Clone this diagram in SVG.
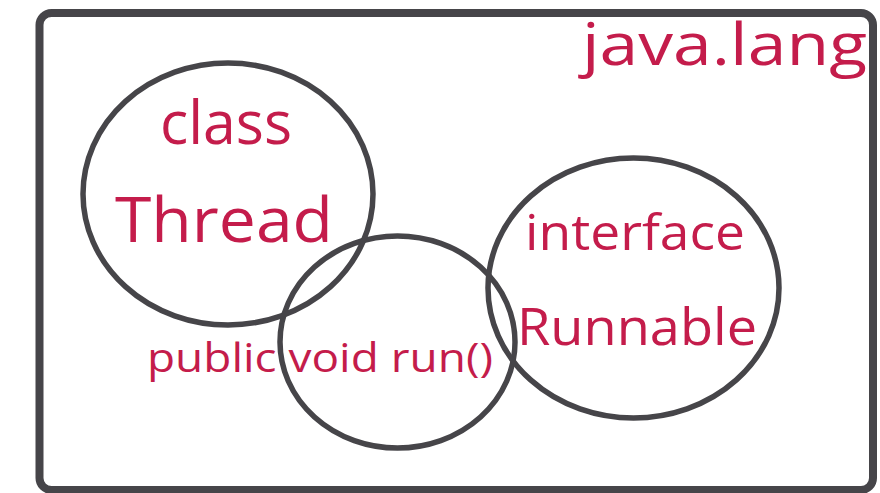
<svg xmlns="http://www.w3.org/2000/svg" width="880" height="493" viewBox="0 0 880 493">
  <style>
    .frame { fill: #ffffff; stroke: #464549; stroke-width: 8; }
    .ring { fill: none; stroke: #464549; stroke-width: 5.5; }
    .lbl { fill: #c41c4b; font-family: "Open Sans", "Noto Sans", "Liberation Sans", sans-serif; }
  </style>
  <rect width="880" height="493" fill="#ffffff"/>
  <g id="package">
    <rect class="frame" x="39.5" y="13" width="833.5" height="477" rx="12" ry="12"/>
    <text class="lbl" x="582" y="65" font-size="58" textLength="285" lengthAdjust="spacingAndGlyphs">java.lang</text>
  </g>
  <g id="method-run">
    <text class="lbl" x="147" y="372" font-size="40" textLength="346" lengthAdjust="spacingAndGlyphs">public void run()</text>
    <ellipse class="ring" cx="397.5" cy="342" rx="117.5" ry="106"/>
  </g>
  <g id="class-thread">
    <text class="lbl" x="160" y="144" font-size="60" textLength="132" lengthAdjust="spacingAndGlyphs">class</text>
    <text class="lbl" x="115" y="242" font-size="63" textLength="218" lengthAdjust="spacingAndGlyphs">Thread</text>
    <ellipse class="ring" cx="228" cy="194" rx="145" ry="131"/>
  </g>
  <g id="interface-runnable">
    <text class="lbl" x="525" y="250" font-size="50" textLength="220" lengthAdjust="spacingAndGlyphs">interface</text>
    <text class="lbl" x="517" y="345" font-size="52" textLength="240" lengthAdjust="spacingAndGlyphs">Runnable</text>
    <ellipse class="ring" cx="633.5" cy="288" rx="145.5" ry="130"/>
  </g>
</svg>
